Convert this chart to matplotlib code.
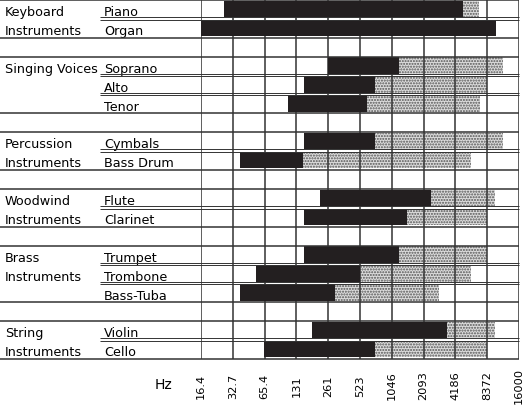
import matplotlib
matplotlib.use("Agg")
import matplotlib.pyplot as plt
import numpy as np

# ---------------- data ----------------
group_labels = ["Keyboard", "Instruments", "",
                "Singing Voices", "", "", "",
                "Percussion", "Instruments", "",
                "Woodwind", "Instruments", "",
                "Brass", "Instruments", "", "",
                "String", "Instruments"]
instrument_labels = ["Piano", "Organ", "",
                     "Soprano", "Alto", "Tenor", "",
                     "Cymbals", "Bass Drum", "",
                     "Flute", "Clarinet", "",
                     "Trumpet", "Trombone", "Bass-Tuba", "",
                     "Violin", "Cello"]
# frequency ranges in Hz (fundamental low, fundamental high, harmonics high)
fund_low = [27, 16.35, 262, 153, 108, 153, 38, 218, 153, 153, 54, 38, 182, 64]
fund_high = [4910, 10100, 1227, 724, 613, 724, 152, 2455, 1449, 1227, 523, 303, 3472, 724]
harm_high = [6990, 10100, 11760, 8372, 7140, 11760, 5840, 9960, 8372, 8372, 5840, 2920, 9960, 8372]
tick_labels = ["16.4", "32.7", "65.4", "131", "261", "523", "1046", "2093", "4186", "8372", "16000"]
base_hz = 16.35

# ---------------- layout ----------------
W, H = 525, 414
fig = plt.figure(figsize=(W / 100, H / 100), dpi=100)
X0, X1 = 201, 519
Y0, Y1 = 1, 360
nrows = len(instrument_labels)
ax = fig.add_axes([X0 / W, 1 - Y1 / H, (X1 - X0) / W, (Y1 - Y0) / H])
ax.set_xlim(0, 10)
ax.set_ylim(nrows, 0)
for s in ax.spines.values():
    s.set_visible(False)
ax.set_yticks([])

dpx = 10 / (X1 - X0)
rowpx = (Y1 - Y0) / nrows


def xpx(p):
    return (p - X0) * dpx


LC = "#333333"
FONT = "DejaVu Sans"

# bars
rows = [i for i, n in enumerate(instrument_labels) if n]
lo = np.log2(np.array(fund_low) / base_hz)
hi = np.log2(np.array(fund_high) / base_hz)
hh = np.log2(np.array(harm_high) / base_hz)
bh = 0.87
yc = np.array(rows) + 0.47
ax.barh(yc, hh - hi, left=hi, height=bh, facecolor="#dcdcdc",
        edgecolor="#555555", linewidth=0, hatch="......", zorder=1)

# grid verticals
ax.vlines(np.arange(0, 11), 0, nrows, color=LC, lw=1.1, zorder=2)

ax.barh(yc, hi - lo, left=lo, height=bh, color="#231f20", linewidth=0, zorder=3)

# horizontal lines
full_left = xpx(0)
name_left = xpx(100)
d = 1.0 / rowpx
for b in range(0, nrows + 1):
    if 0 < b < nrows and instrument_labels[b - 1] and instrument_labels[b]:
        for off in (-1.8 * d, 0.9 * d):
            ax.plot([name_left, 10], [b + off, b + off],
                    color=LC, lw=0.7, clip_on=False, zorder=4, solid_capstyle="butt")
    else:
        ax.plot([full_left, 10], [b, b], color=LC, lw=1.1, clip_on=False,
                zorder=4, solid_capstyle="butt")

# texts
for i in range(nrows):
    if group_labels[i]:
        ax.text(xpx(5), i + 0.80, group_labels[i], fontsize=9.2, family=FONT,
                va="baseline", ha="left", clip_on=False)
    if instrument_labels[i]:
        ax.text(xpx(104), i + 0.80, instrument_labels[i], fontsize=9.2, family=FONT,
                va="baseline", ha="left", clip_on=False)

ax.text(xpx(163), (385 - Y0) / rowpx, "Hz", fontsize=10, family=FONT,
        va="center", ha="center", clip_on=False)

ax.set_xticks(np.arange(11))
ax.set_xticklabels(tick_labels, rotation=90, fontsize=8.2, family=FONT)
ax.tick_params(axis="x", length=0, pad=26 * 0.72)
for lbl in ax.get_xticklabels():
    lbl.set_verticalalignment("center")

fig.savefig("out.png", dpi=100)
